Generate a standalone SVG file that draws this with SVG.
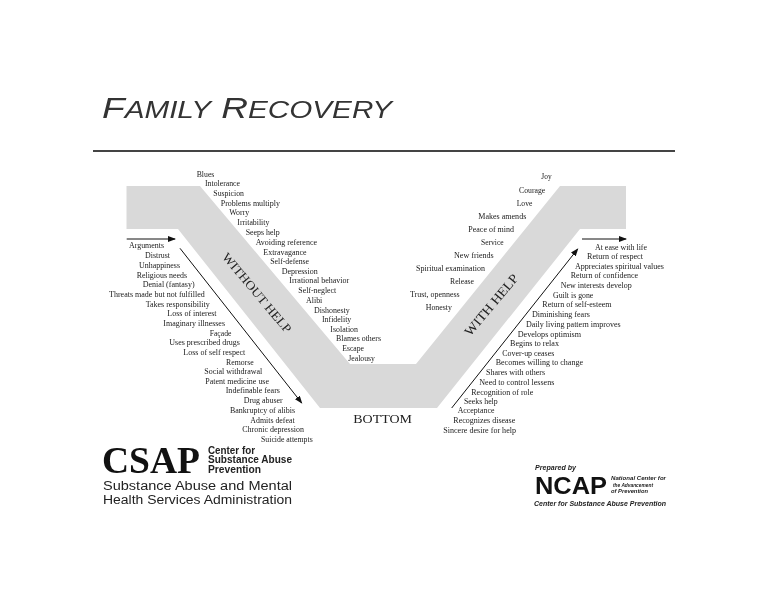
<svg xmlns="http://www.w3.org/2000/svg" width="768" height="593" viewBox="0 0 768 593">
<style>
.l{font-family:"Liberation Serif","Times New Roman",serif;font-size:8.5px;fill:#1a1a1a}
.s{font-family:"Liberation Sans",Arial,sans-serif;fill:#222}
.b{font-family:"Liberation Serif","Times New Roman",serif;fill:#222}
.c{stroke:#111;stroke-width:1;fill:none;marker-end:url(#a)}
</style>
<defs><marker id="a" markerWidth="8" markerHeight="6" refX="7" refY="3" orient="auto" markerUnits="userSpaceOnUse"><path d="M0 0L8 3L0 6Z" fill="#111"/></marker>
<filter id="g" x="0" y="0" width="100%" height="100%" color-interpolation-filters="sRGB"><feColorMatrix type="saturate" values="0"/></filter></defs>
<rect width="768" height="593" fill="#fff"/>
<g filter="url(#g)">
<g id="title">
<text class="s" x="102" y="118" textLength="290" lengthAdjust="spacingAndGlyphs" font-size="30" font-style="italic" style="fill:#333">F<tspan font-size="24">AMILY</tspan> R<tspan font-size="24">ECOVERY</tspan></text>
<rect x="93" y="150" width="582" height="2" fill="#444"/>
</g>
<g id="band"><path d="M126.5 186H200L350 364H416L560 186H626V229H580L437 408H320L178 229H126.5Z" fill="#d9d9d9"/>
<text class="b" transform="translate(256.7 293) rotate(50)" text-anchor="middle" y="4" font-size="12.5" textLength="100" lengthAdjust="spacingAndGlyphs">WITHOUT HELP</text>
<text class="b" transform="translate(491.7 305) rotate(-50)" text-anchor="middle" y="4" font-size="13" textLength="76" lengthAdjust="spacingAndGlyphs">WITH HELP</text>
<text class="b" x="353.3" y="423" font-size="12.5" textLength="58.7" lengthAdjust="spacingAndGlyphs">BOTTOM</text>
</g>
<g id="connectors">
<path class="c" d="M126.7 239H175"/>
<path class="c" d="M180 248.3L301.7 403"/>
<path class="c" d="M582 239H626"/>
<path class="c" d="M451.7 408L577.7 249"/>
</g>
<g id="without-help-top">
<text class="l" x="196.7" y="177" textLength="17.7" lengthAdjust="spacingAndGlyphs">Blues</text>
<text class="l" x="205" y="186.3" textLength="35" lengthAdjust="spacingAndGlyphs">Intolerance</text>
<text class="l" x="213.3" y="196.3" textLength="30.7" lengthAdjust="spacingAndGlyphs">Suspicion</text>
<text class="l" x="220.7" y="205.7" textLength="59.3" lengthAdjust="spacingAndGlyphs">Problems multiply</text>
<text class="l" x="229.3" y="215.3" textLength="20" lengthAdjust="spacingAndGlyphs">Worry</text>
<text class="l" x="237.3" y="225" textLength="32" lengthAdjust="spacingAndGlyphs">Irritability</text>
<text class="l" x="245.7" y="235" textLength="34" lengthAdjust="spacingAndGlyphs">Seeps help</text>
<text class="l" x="255.7" y="244.7" textLength="61.3" lengthAdjust="spacingAndGlyphs">Avoiding reference</text>
<text class="l" x="263.3" y="254.7" textLength="43.3" lengthAdjust="spacingAndGlyphs">Extravagance</text>
<text class="l" x="270.3" y="264" textLength="38.7" lengthAdjust="spacingAndGlyphs">Self-defense</text>
<text class="l" x="281.7" y="274" textLength="36" lengthAdjust="spacingAndGlyphs">Depression</text>
<text class="l" x="289.3" y="283.3" textLength="60" lengthAdjust="spacingAndGlyphs">Irrational behavior</text>
<text class="l" x="298.3" y="293.3" textLength="38" lengthAdjust="spacingAndGlyphs">Self-neglect</text>
<text class="l" x="306" y="302.7" textLength="16.3" lengthAdjust="spacingAndGlyphs">Alibi</text>
<text class="l" x="314" y="312.7" textLength="35.7" lengthAdjust="spacingAndGlyphs">Dishonesty</text>
<text class="l" x="322" y="322" textLength="29.3" lengthAdjust="spacingAndGlyphs">Infidelity</text>
<text class="l" x="330.3" y="332" textLength="27.7" lengthAdjust="spacingAndGlyphs">Isolation</text>
<text class="l" x="336" y="341.3" textLength="45" lengthAdjust="spacingAndGlyphs">Blames others</text>
<text class="l" x="342.3" y="350.7" textLength="21.7" lengthAdjust="spacingAndGlyphs">Escape</text>
<text class="l" x="348.3" y="360.7" textLength="26.7" lengthAdjust="spacingAndGlyphs">Jealousy</text>
</g>
<g id="without-help-bottom">
<text class="l" x="129" y="248.3" textLength="35" lengthAdjust="spacingAndGlyphs">Arguments</text>
<text class="l" x="145" y="258" textLength="25" lengthAdjust="spacingAndGlyphs">Distrust</text>
<text class="l" x="139" y="267.7" textLength="41" lengthAdjust="spacingAndGlyphs">Unhappiness</text>
<text class="l" x="136.7" y="277.7" textLength="50.3" lengthAdjust="spacingAndGlyphs">Religious needs</text>
<text class="l" x="142.7" y="287.3" textLength="52" lengthAdjust="spacingAndGlyphs">Denial (fantasy)</text>
<text class="l" x="109" y="297" textLength="95.7" lengthAdjust="spacingAndGlyphs">Threats made but not fulfilled</text>
<text class="l" x="145.7" y="306.7" textLength="64" lengthAdjust="spacingAndGlyphs">Takes responsibility</text>
<text class="l" x="167.3" y="316" textLength="49.3" lengthAdjust="spacingAndGlyphs">Loss of interest</text>
<text class="l" x="163.3" y="326" textLength="61.7" lengthAdjust="spacingAndGlyphs">Imaginary illnesses</text>
<text class="l" x="209.7" y="336" textLength="21.7" lengthAdjust="spacingAndGlyphs">Façade</text>
<text class="l" x="169.3" y="345.3" textLength="70.7" lengthAdjust="spacingAndGlyphs">Uses prescribed drugs</text>
<text class="l" x="183.3" y="354.7" textLength="62" lengthAdjust="spacingAndGlyphs">Loss of self respect</text>
<text class="l" x="226" y="364.7" textLength="27.7" lengthAdjust="spacingAndGlyphs">Remorse</text>
<text class="l" x="204.3" y="374" textLength="58" lengthAdjust="spacingAndGlyphs">Social withdrawal</text>
<text class="l" x="205.3" y="384" textLength="63.7" lengthAdjust="spacingAndGlyphs">Patent medicine use</text>
<text class="l" x="225.7" y="393.3" textLength="54.3" lengthAdjust="spacingAndGlyphs">Indefinable fears</text>
<text class="l" x="243.7" y="403.3" textLength="39" lengthAdjust="spacingAndGlyphs">Drug abuser</text>
<text class="l" x="230" y="412.7" textLength="65" lengthAdjust="spacingAndGlyphs">Bankruptcy of alibis</text>
<text class="l" x="250.3" y="422.7" textLength="44.3" lengthAdjust="spacingAndGlyphs">Admits defeat</text>
<text class="l" x="242.3" y="432" textLength="61.7" lengthAdjust="spacingAndGlyphs">Chronic depression</text>
<text class="l" x="261" y="442" textLength="51.7" lengthAdjust="spacingAndGlyphs">Suicide attempts</text>
</g>
<g id="with-help-top">
<text class="l" x="541.3" y="179.3" textLength="10.3" lengthAdjust="spacingAndGlyphs">Joy</text>
<text class="l" x="519" y="192.7" textLength="26.3" lengthAdjust="spacingAndGlyphs">Courage</text>
<text class="l" x="516.7" y="205.7" textLength="15.7" lengthAdjust="spacingAndGlyphs">Love</text>
<text class="l" x="478.3" y="218.7" textLength="48" lengthAdjust="spacingAndGlyphs">Makes amends</text>
<text class="l" x="468.3" y="232" textLength="45.7" lengthAdjust="spacingAndGlyphs">Peace of mind</text>
<text class="l" x="481" y="245" textLength="22.7" lengthAdjust="spacingAndGlyphs">Service</text>
<text class="l" x="454" y="258.3" textLength="39.7" lengthAdjust="spacingAndGlyphs">New friends</text>
<text class="l" x="416" y="271.3" textLength="69" lengthAdjust="spacingAndGlyphs">Spiritual examination</text>
<text class="l" x="450" y="284.3" textLength="24" lengthAdjust="spacingAndGlyphs">Release</text>
<text class="l" x="410" y="297.3" textLength="49.7" lengthAdjust="spacingAndGlyphs">Trust, openness</text>
<text class="l" x="425.7" y="310.3" textLength="26.3" lengthAdjust="spacingAndGlyphs">Honesty</text>
</g>
<g id="with-help-bottom">
<text class="l" x="595" y="250" textLength="52" lengthAdjust="spacingAndGlyphs">At ease with life</text>
<text class="l" x="587" y="259.3" textLength="56" lengthAdjust="spacingAndGlyphs">Return of respect</text>
<text class="l" x="575" y="268.7" textLength="89" lengthAdjust="spacingAndGlyphs">Appreciates spiritual values</text>
<text class="l" x="570.7" y="278.3" textLength="67.3" lengthAdjust="spacingAndGlyphs">Return of confidence</text>
<text class="l" x="560.7" y="288" textLength="71" lengthAdjust="spacingAndGlyphs">New interests develop</text>
<text class="l" x="553" y="298" textLength="40.3" lengthAdjust="spacingAndGlyphs">Guilt is gone</text>
<text class="l" x="542.3" y="307.3" textLength="69.3" lengthAdjust="spacingAndGlyphs">Return of self-esteem</text>
<text class="l" x="532" y="317.3" textLength="58" lengthAdjust="spacingAndGlyphs">Diminishing fears</text>
<text class="l" x="526" y="326.7" textLength="94.7" lengthAdjust="spacingAndGlyphs">Daily living pattern improves</text>
<text class="l" x="517.7" y="336.7" textLength="63.3" lengthAdjust="spacingAndGlyphs">Develops optimism</text>
<text class="l" x="510" y="346" textLength="49" lengthAdjust="spacingAndGlyphs">Begins to relax</text>
<text class="l" x="502.3" y="356" textLength="52" lengthAdjust="spacingAndGlyphs">Cover-up ceases</text>
<text class="l" x="495.7" y="365.3" textLength="87.3" lengthAdjust="spacingAndGlyphs">Becomes willing to change</text>
<text class="l" x="486" y="375.3" textLength="59" lengthAdjust="spacingAndGlyphs">Shares with others</text>
<text class="l" x="479.3" y="384.7" textLength="75" lengthAdjust="spacingAndGlyphs">Need to control lessens</text>
<text class="l" x="471.3" y="394.7" textLength="62" lengthAdjust="spacingAndGlyphs">Recognition of role</text>
<text class="l" x="464" y="404" textLength="33.7" lengthAdjust="spacingAndGlyphs">Seeks help</text>
<text class="l" x="457.7" y="413.3" textLength="36.7" lengthAdjust="spacingAndGlyphs">Acceptance</text>
<text class="l" x="453.3" y="423.3" textLength="62" lengthAdjust="spacingAndGlyphs">Recognizes disease</text>
<text class="l" x="443.3" y="433.3" textLength="72.7" lengthAdjust="spacingAndGlyphs">Sincere desire for help</text>
</g>
<g id="csap">
<text class="b" x="102" y="473" font-size="37" textLength="98" lengthAdjust="spacingAndGlyphs" font-weight="bold" style="fill:#111">CSAP</text>
<text class="s" x="208" y="453.5" font-size="10" font-weight="bold" textLength="47" lengthAdjust="spacingAndGlyphs">Center for</text>
<text class="s" x="208" y="463" font-size="10" font-weight="bold" textLength="84" lengthAdjust="spacingAndGlyphs">Substance Abuse</text>
<text class="s" x="208" y="472.5" font-size="10" font-weight="bold" textLength="53" lengthAdjust="spacingAndGlyphs">Prevention</text>
<text class="s" x="103" y="490.4" font-size="12" textLength="189" lengthAdjust="spacingAndGlyphs">Substance Abuse and Mental</text>
<text class="s" x="103" y="504.2" font-size="12" textLength="189" lengthAdjust="spacingAndGlyphs">Health Services Administration</text>
</g>
<g id="ncap">
<text class="s" x="535" y="469.5" font-size="7.5" font-style="italic" font-weight="bold" textLength="41" lengthAdjust="spacingAndGlyphs">Prepared by</text>
<text class="s" x="535" y="493.5" font-size="23.5" font-weight="bold" textLength="72" lengthAdjust="spacingAndGlyphs" style="fill:#111">NCAP</text>
<text class="s" x="611" y="480" font-size="6" font-style="italic" font-weight="bold" textLength="55" lengthAdjust="spacingAndGlyphs">National Center for</text>
<text class="s" x="613" y="486.5" font-size="6" font-style="italic" font-weight="bold" textLength="40" lengthAdjust="spacingAndGlyphs">the Advancement</text>
<text class="s" x="611" y="493" font-size="6" font-style="italic" font-weight="bold" textLength="37" lengthAdjust="spacingAndGlyphs">of Prevention</text>
<text class="s" x="534" y="505.5" font-size="7.5" font-style="italic" font-weight="bold" textLength="132" lengthAdjust="spacingAndGlyphs">Center for Substance Abuse Prevention</text>
</g>
</g>
</svg>
